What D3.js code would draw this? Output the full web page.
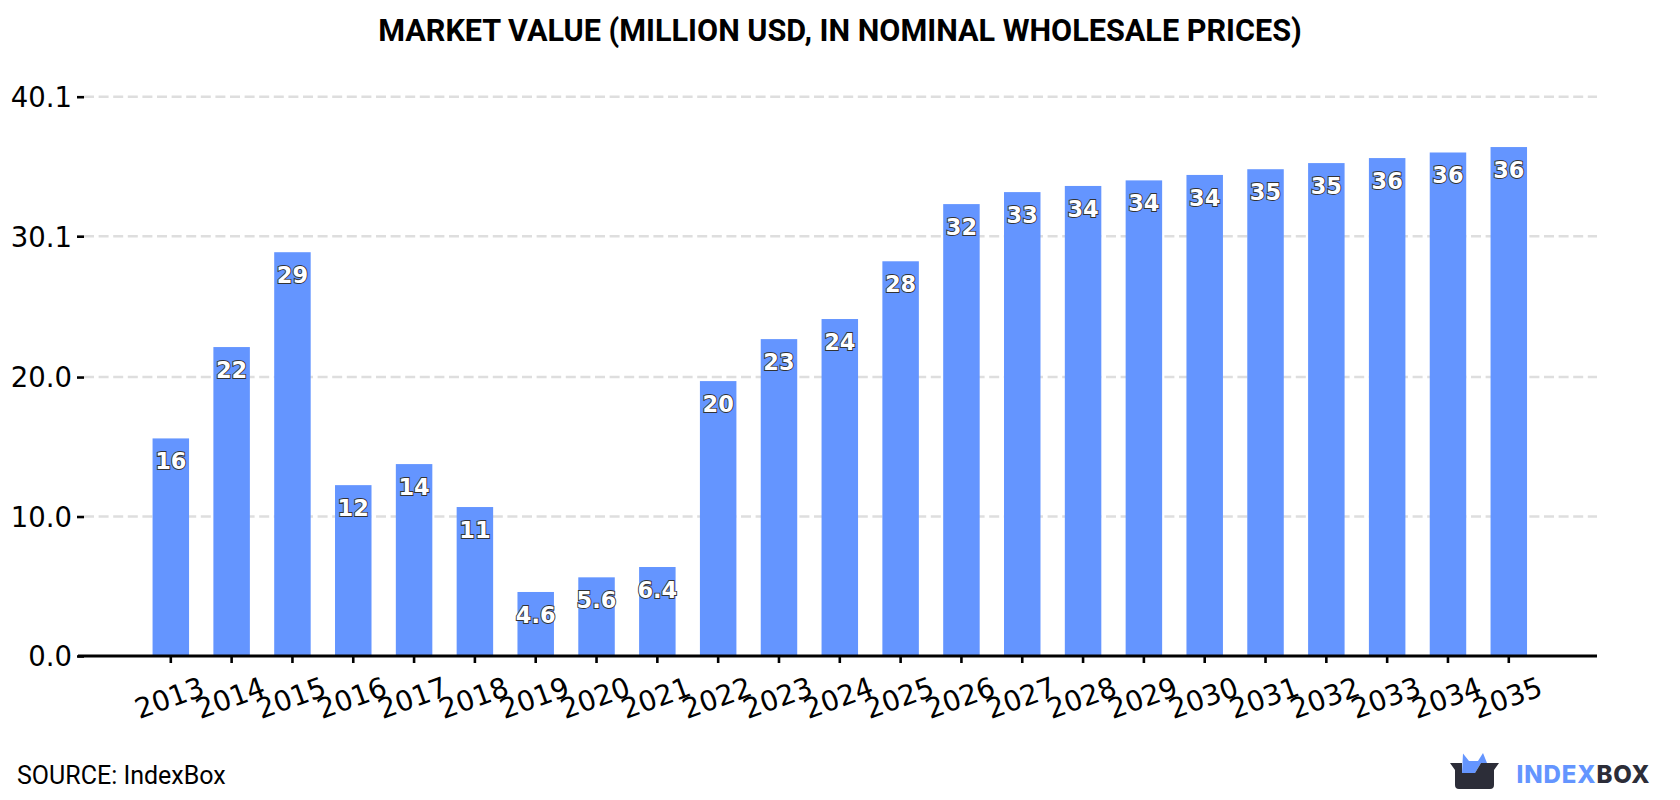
<!DOCTYPE html>
<html>
<head>
<meta charset="utf-8">
<script src="https://cdn.jsdelivr.net/npm/d3@7/dist/d3.min.js"></script>
<style>
  html, body { margin: 0; padding: 0; background: #fff; }
  svg { display: block; }
</style>
</head>
<body>
<svg id="chart" width="1680" height="800"></svg>
<script>
const years = ["2013","2014","2015","2016","2017","2018","2019","2020","2021","2022","2023","2024","2025","2026","2027","2028","2029","2030","2031","2032","2033","2034","2035"];
const marketValue = [15.6,22.15,28.95,12.25,13.76,10.68,4.59,5.64,6.38,19.71,22.72,24.16,28.3,32.4,33.26,33.7,34.1,34.49,34.9,35.34,35.7,36.1,36.49];
const yTicks = [0.0,10.0,20.0,30.1,40.1];
const chartTitle = "MARKET VALUE (MILLION USD, IN NOMINAL WHOLESALE PRICES)";
const sourceText = "SOURCE: IndexBox";

const svg = d3.select("#chart");
const frame = { left: 84, right: 1597, top: 96.7, bottom: 656 };

const x = d3.scaleBand().domain(years).range([140.4, 1539.2]).paddingInner(0.4).paddingOuter(0.2);
const y = d3.scaleLinear().domain([0, 40.1]).range([frame.bottom, frame.top]);

const sans = "'DejaVu Sans', sans-serif";
const black = "#000";

svg.append("text")
  .attr("x", 840).attr("y", 41)
  .attr("text-anchor", "middle")
  .attr("font-family", "Roboto, sans-serif")
  .attr("font-weight", 700)
  .attr("font-size", 30.6)
  .attr("fill", black)
  .text(chartTitle);

// Dashed horizontal guides behind the bars
svg.append("g").selectAll("line")
  .data(yTicks.filter(d => d > 0))
  .join("line")
  .attr("x1", frame.left).attr("x2", frame.right)
  .attr("y1", d => y(d)).attr("y2", d => y(d))
  .attr("stroke", "#dedede")
  .attr("stroke-width", 2.6)
  .attr("stroke-dasharray", "10,4.6");

svg.append("g").selectAll("rect")
  .data(years)
  .join("rect")
  .attr("x", d => x(d))
  .attr("width", x.bandwidth())
  .attr("y", (d, i) => y(marketValue[i]))
  .attr("height", (d, i) => y(0) - y(marketValue[i]))
  .attr("fill", "#6495ff");

// Value labels: two significant digits, white with a thin dark outline
svg.append("g").selectAll("text")
  .data(years)
  .join("text")
  .attr("x", d => x(d) + x.bandwidth() / 2)
  .attr("y", (d, i) => y(marketValue[i]) + 31)
  .attr("text-anchor", "middle")
  .attr("font-family", sans)
  .attr("font-weight", 700)
  .attr("font-size", 22.5)
  .attr("fill", "#fff")
  .attr("stroke", "#333")
  .attr("stroke-width", 1.8)
  .attr("paint-order", "stroke")
  .text((d, i) => d3.format(".2")(marketValue[i]));

const yAxis = d3.axisLeft(y).tickValues(yTicks).tickFormat(d3.format(".1f")).tickSize(7).tickPadding(5);
const yG = svg.append("g").attr("transform", `translate(${frame.left},0)`).call(yAxis);
yG.select(".domain").remove();
yG.selectAll(".tick line").attr("stroke", black).attr("stroke-width", 2.6);
yG.selectAll(".tick text").attr("font-family", sans).attr("font-size", 27.5).attr("fill", black).attr("dy", "0.36em");

const xAxis = d3.axisBottom(x).tickSize(7).tickSizeOuter(0);
const xG = svg.append("g").attr("transform", `translate(0,${frame.bottom})`).call(xAxis);
xG.select(".domain").remove();
xG.selectAll(".tick line").attr("stroke", black).attr("stroke-width", 2.6);
xG.selectAll(".tick text")
  .attr("font-family", sans).attr("font-size", 28).attr("fill", black)
  .attr("text-anchor", "middle")
  .attr("dy", 0).attr("y", 0)
  .attr("transform", "translate(2,51) rotate(-20)");

// Baseline
svg.append("line")
  .attr("x1", 78).attr("x2", frame.right)
  .attr("y1", frame.bottom).attr("y2", frame.bottom)
  .attr("stroke", black).attr("stroke-width", 3);

svg.append("text")
  .attr("x", 17).attr("y", 784)
  .attr("font-family", "Roboto, sans-serif")
  .attr("font-size", 25)
  .attr("fill", black)
  .text(sourceText);

// Brand mark: open box with a blue shape rising out of it, then the wordmark
const logo = svg.append("g");
logo.append("path")
  .attr("d", "M1462,773 L1463,753.5 L1469,761 L1478,761 L1483,753 L1487,763 L1481,763 L1475,773 Z")
  .attr("fill", "#6495ff");
logo.append("path")
  .attr("d", "M1450,763 L1462,763 L1462,773 L1475,773 L1481,763 L1499,763 L1494,770 L1494,785 Q1494,789 1490,789 L1459,789 Q1455,789 1455,785 L1455,770 Z")
  .attr("fill", "#2c2d38");
const wordmark = svg.append("text")
  .attr("x", 1516.5).attr("y", 783)
  .attr("font-family", "Inter, Roboto, sans-serif")
  .attr("font-weight", 800)
  .attr("font-size", 24)
  .attr("letter-spacing", 0.9);
wordmark.append("tspan").attr("fill", "#6495ff").text("INDEX");
wordmark.append("tspan").attr("fill", "#2c2d38").text("BOX");
</script>
</body>
</html>
